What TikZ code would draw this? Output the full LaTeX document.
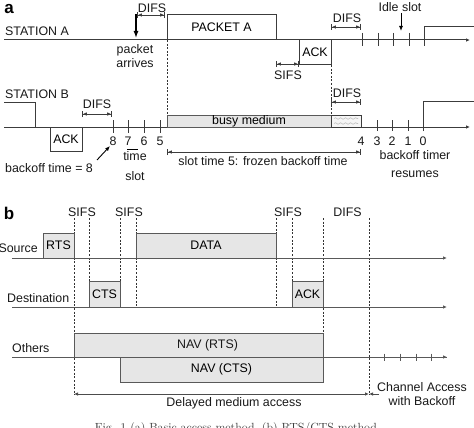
\documentclass[tikz,border=0pt]{standalone}
\usepackage{fontspec}
\setsansfont{Liberation Sans}
\usetikzlibrary{arrows.meta,decorations.pathmorphing}
\definecolor{boxgray}{HTML}{E6E6E6}
\definecolor{linegray}{HTML}{3C3C3C}
\tikzset{
  lbl/.style={font=\sffamily\fontsize{12.4}{14.5}\selectfont, inner sep=0pt, text=black!90},
  panel/.style={font=\sffamily\bfseries\fontsize{17}{17}\selectfont, inner sep=0pt},
  tl/.style={line width=1pt, draw=linegray},
  tlb/.style={line width=1pt, draw=black!65},
  abox/.style={draw=linegray, line width=1pt, fill=white, inner sep=0pt, font=\sffamily\fontsize{12.4}{14.5}\selectfont},
  gbox/.style={draw=black!65, line width=1pt, fill=boxgray, inner sep=0pt, font=\sffamily\fontsize{12.4}{14.5}\selectfont},
  tick/.style={line width=1pt, draw=linegray},
  dimarrow/.style={line width=0.8pt, draw=linegray, {Bar[width=6pt]Latex[length=4pt,width=3.5pt]}-{Latex[length=4pt,width=3.5pt]Bar[width=6pt]}},
  endarrow/.style={-{Latex[length=4pt,width=3.5pt]}},
  vdash/.style={line width=1pt, draw=black!80, dash pattern=on 2pt off 1.6pt},
  >={Latex[length=4pt,width=3.5pt]}
}
\begin{document}
\begin{tikzpicture}[x=1pt,y=-1pt]
\clip (0,0) rectangle (474,428);
\useasboundingbox (0,0) rectangle (474,428);
\fill[white] (0,0) rectangle (474,428);

% ===== panel a =====
\node[panel] (pa-lbl) at (9,9) {a};
\node[lbl, anchor=west] (staA) at (5,31) {STATION A};
\node[lbl, anchor=west] (staB) at (5,94) {STATION B};

% dashed verticals
\draw[vdash] (167,40) -- (167,115);
\draw[vdash] (331,65) -- (331,115);

% station A line
\coordinate (a0) at (4,40);
\coordinate (a1) at (470,40);
\draw[tl, endarrow] (a0) -- (a1);
\node[abox, minimum width=109pt, minimum height=25pt] (pktA) at (221.5,27.5) {PACKET A};
\node[abox, minimum width=32pt, minimum height=25pt] (ackA) at (315,52.5) {ACK};
\draw[line width=1.3pt, draw=black, -{Latex[length=7pt,width=5pt]}] (136,14) -- (136,38);
\draw[dimarrow] (137,15) -- (165,15);
\node[lbl] (difsA1) at (152,8) {DIFS};
\node[lbl, align=center] (arr) at (135,56) {packet\\arrives};
\draw[dimarrow] (276,64) -- (299,64);
\node[lbl] (sifsA) at (288,75) {SIFS};
\draw[dimarrow] (331,27) -- (361,27);
\node[lbl] (difsA2) at (347,18) {DIFS};
\foreach \x in {362,378,393,409}{\draw[tick] (\x,33) -- (\x,46);}
\node[lbl] (idle) at (400,7) {Idle slot};
\draw[line width=0.9pt, -{Latex[length=5pt,width=4pt]}] (401,13) -- (401,31);
\draw[tl] (424,46) -- (424,27) -- (474,27);

% station B line
\coordinate (b0) at (4,127);
\coordinate (b1) at (470,127);
\draw[tl, endarrow] (b0) -- (b1);
\draw[tl] (4,102) -- (35,102) -- (35,127);
\node[abox, minimum width=32pt, minimum height=24pt] (ackB) at (66,139) {ACK};
\draw[dimarrow] (82,114) -- (112,114);
\node[lbl] (difsB1) at (97,104) {DIFS};
\foreach \x/\n in {113/8,128/7,144/6,160/5}{
  \draw[tick] (\x,120) -- (\x,133);
  \node[lbl] (nB\n) at (\x,141) {\n};
}
\node[lbl, anchor=west] (bo8) at (5,168) {backoff time = 8};
\draw[line width=0.9pt, -{Latex[length=5pt,width=4pt]}] (97,160) -- (110,146);
\draw[line width=0.8pt] (127,149) -- (138,149);
\node[lbl] (timeL) at (135,156) {time};
\node[lbl] (slotL) at (135,176) {slot};
\node[gbox, minimum width=164pt, minimum height=12pt] (busy) at (249,121) {busy medium};
\node[draw=linegray, line width=1pt, fill=black!4, minimum width=30pt, minimum height=12pt, inner sep=0pt] (hatch) at (346,121) {};
\draw[black!25, line width=0.6pt, decorate, decoration={snake, amplitude=0.8pt, segment length=5pt}] (334,118.5) -- (358,118.5);
\draw[black!25, line width=0.6pt, decorate, decoration={snake, amplitude=0.8pt, segment length=5pt}] (334,123.5) -- (358,123.5);
\draw[dimarrow] (331,102) -- (361,102);
\node[lbl] (difsB2) at (347,93) {DIFS};
\foreach \x in {377,392,408}{\draw[tick] (\x,120) -- (\x,131);}
\foreach \x/\n in {361/4,377/3,392/2,408/1,423/0}{\node[lbl] (nA\n) at (\x,141) {\n};}
\draw[tl] (423,131) -- (423,101) -- (474,101);
\draw[dimarrow] (167,152) -- (361,152);
\node[lbl] (frozen) at (263,161) {slot time 5: frozen backoff time};
\node[lbl] (btimer) at (415,155) {backoff timer};
\node[lbl] (resumes) at (415,174) {resumes};

% ===== panel b =====
\node[panel] (pb-lbl) at (9,213) {b};
\node[lbl] (s1) at (82,212) {SIFS};
\node[lbl] (s2) at (129,212) {SIFS};
\node[lbl] (s3) at (288,212) {SIFS};
\node[lbl] (d1) at (347.5,212) {DIFS};

\draw[vdash] (74,218) -- (74,395);
\draw[vdash] (89,218) -- (89,307);
\draw[vdash] (120,218) -- (120,307);
\draw[vdash] (136,218) -- (136,307);
\draw[vdash] (276,218) -- (276,307);
\draw[vdash] (292,218) -- (292,307);
\draw[vdash] (323,218) -- (323,333);
\draw[vdash] (369,218) -- (369,395);

\node[lbl, anchor=east] (src) at (38,248) {Source};
\node[lbl, anchor=west] (dst) at (7,298) {Destination};
\node[lbl, anchor=west] (oth) at (12,348) {Others};

\coordinate (s0) at (12,258); \coordinate (s9) at (447,258);
\coordinate (d0) at (12,307); \coordinate (d9) at (447,307);
\coordinate (o0) at (12,357); \coordinate (o9) at (447,357);
\draw[tlb, endarrow] (s0) -- (s9);
\draw[tlb, endarrow] (d0) -- (d9);
\draw[tlb, endarrow] (o0) -- (o9);

\node[gbox, minimum width=31pt, minimum height=25pt] (rts) at (58.5,245.5) {RTS};
\node[gbox, minimum width=140pt, minimum height=25pt] (data) at (206,245.5) {DATA};
\node[gbox, minimum width=31pt, minimum height=26pt] (cts) at (104.5,294) {CTS};
\node[gbox, minimum width=31pt, minimum height=26pt] (ack2) at (307.5,294) {ACK};
\node[gbox, minimum width=249pt, minimum height=24pt] (navr) at (198.5,345) {};
\node[lbl] (navrt) at (207.5,345) {NAV (RTS)};
\node[gbox, minimum width=203pt, minimum height=25pt] (navc) at (221.5,369.5) {NAV (CTS)};
\draw[tlb] (o0) -- (o9);
\foreach \x in {384,400,416,431}{\draw[line width=0.8pt, black!65] (\x,353.5) -- (\x,360.5);}

\coordinate (dl0) at (74,394); \coordinate (dl1) at (369,394);
\draw[line width=0.8pt, draw=black!70, <->] (dl0) -- (dl1);
\coordinate (ch1) at (379,394);
\draw[line width=0.8pt, draw=black!70, ->] (ch1) -- (dl1);
\node[lbl] (delayed) at (234,403) {Delayed medium access};
\node[lbl] (chan) at (422,387.5) {Channel Access};
\node[lbl] (withb) at (422,401.5) {with Backoff};

% caption (cut by the frame, as in the reference)
\node[anchor=north, inner sep=0pt, text=black!75] (cap) at (236,422.5)
  {\resizebox{282pt}{!}{Fig. 1 (a) Basic access method, (b) RTS/CTS method}};
\end{tikzpicture}
\end{document}
